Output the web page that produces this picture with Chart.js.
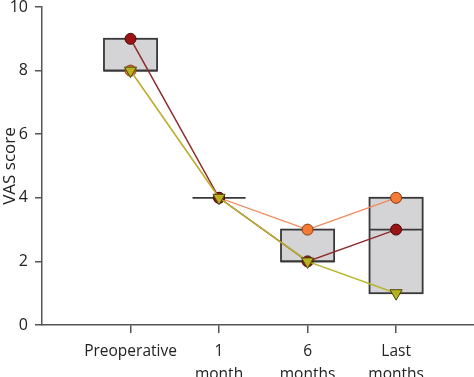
<!DOCTYPE html>
<html>
<head>
<meta charset="utf-8">
<script src="https://cdn.jsdelivr.net/npm/chart.js@4.4.1/dist/chart.umd.min.js"></script>
<style>
    html, body { margin: 0; padding: 0; background: #fff; }
    #wrap { width: 474px; height: 377px; position: relative; overflow: hidden; }
</style>
</head>
<body>
<div id="wrap"><canvas id="chart"></canvas></div>
<script>
(function () {
    'use strict';

    // categories (x positions 1..4)
    var categories = ['Preoperative', ['1', 'month'], ['6', 'months'], ['Last', 'months']];
    var yTicks = [0, 2, 4, 6, 8, 10];

    // box summary per category
    var boxLow = [8, 4, 2, 1];
    var boxHigh = [9, 4, 3, 4];
    var boxMedian = [8, 4, 2, 3];

    // patient series
    var patientA = [9, 4, 2, 3];   // dark red circles
    var patientB = [8, 4, 3, 4];   // orange circles
    var patientC = [8, 4, 2, 1];   // yellow triangles

    function toPoints(values) {
        var out = [];
        for (var i = 0; i < values.length; i++) {
            out.push({ x: i + 1, y: values[i] });
        }
        return out;
    }

    var boxPlugin = {
        id: 'boxes',
        beforeDatasetsDraw: function (chart) {
            var ctx = chart.ctx;
            var xs = chart.scales.x;
            var ys = chart.scales.y;
            ctx.save();
            ctx.lineWidth = 1.8;
            ctx.strokeStyle = '#383838';
            for (var i = 0; i < boxLow.length; i++) {
                var x0 = xs.getPixelForValue(i + 1 - 0.3);
                var x1 = xs.getPixelForValue(i + 1 + 0.3);
                var yTop = ys.getPixelForValue(boxHigh[i]);
                var yBot = ys.getPixelForValue(boxLow[i]);
                if (yBot - yTop > 0.5) {
                    ctx.fillStyle = '#d4d4d6';
                    ctx.fillRect(x0, yTop, x1 - x0, yBot - yTop);
                    ctx.strokeRect(x0, yTop, x1 - x0, yBot - yTop);
                }
                var yMed = ys.getPixelForValue(boxMedian[i]);
                ctx.beginPath();
                ctx.moveTo(x0, yMed);
                ctx.lineTo(x1, yMed);
                ctx.stroke();
            }
            ctx.restore();
        }
    };

    var family = '"Open Sans", "Noto Sans", sans-serif';

    new Chart(document.getElementById('chart'), {
        type: 'line',
        data: {
            datasets: [{
                data: toPoints(patientC),
                borderColor: '#b9b52c',
                backgroundColor: '#b8b21c',
                pointBorderColor: '#4a4410',
                borderWidth: 1.5,
                pointStyle: 'triangle',
                rotation: 180,
                pointRadius: 7,
                pointBorderWidth: 1,
                order: 0
            }, {
                data: toPoints(patientA),
                borderColor: '#8e2a2a',
                backgroundColor: '#9a1414',
                pointBorderColor: '#4a0a0a',
                borderWidth: 1.5,
                pointRadius: 5.5,
                pointBorderWidth: 1,
                order: 1
            }, {
                data: toPoints(patientB),
                borderColor: '#f2875a',
                backgroundColor: '#f47a36',
                pointBorderColor: '#8a3a10',
                borderWidth: 1.3,
                pointRadius: 5.5,
                pointBorderWidth: 1,
                order: 2
            }]
        },
        options: {
            responsive: true,
            maintainAspectRatio: false,
            animation: false,
            layout: { padding: 0, autoPadding: false },
            plugins: {
                legend: { display: false },
                tooltip: { enabled: false }
            },
            scales: {
                x: {
                    type: 'linear',
                    min: 0,
                    max: 4.88,
                    afterBuildTicks: function (axis) {
                        axis.ticks = [1, 2, 3, 4].map(function (v) { return { value: v }; });
                    },
                    afterFit: function (axis) {
                        axis.height = 52;
                        axis.paddingRight = 0;
                        axis.paddingLeft = 0;
                    },
                    ticks: {
                        color: '#222',
                        font: { family: family, size: 15.5, lineHeight: 1.5 },
                        maxRotation: 0,
                        padding: 7,
                        callback: function (v) { return categories[v - 1]; }
                    },
                    grid: { drawOnChartArea: false, drawTicks: true, tickLength: 8, color: '#555', lineWidth: 1.5 },
                    border: { display: true, color: '#555', width: 1.5 }
                },
                y: {
                    min: 0,
                    max: 10,
                    afterBuildTicks: function (axis) {
                        axis.ticks = yTicks.map(function (v) { return { value: v }; });
                    },
                    afterFit: function (axis) {
                        axis.width = 42;
                        axis.paddingTop = 7;
                        axis.paddingBottom = 0;
                    },
                    title: { display: true, text: 'VAS score', color: '#222', font: { family: family, size: 17 }, padding: 0 },
                    ticks: { color: '#222', font: { family: family, size: 16 }, padding: 7 },
                    grid: { drawOnChartArea: false, drawTicks: true, tickLength: 7, color: '#555', lineWidth: 1.5 },
                    border: { display: true, color: '#555', width: 1.5 }
                }
            }
        },
        plugins: [boxPlugin]
    });
})();
</script>
</body>
</html>
